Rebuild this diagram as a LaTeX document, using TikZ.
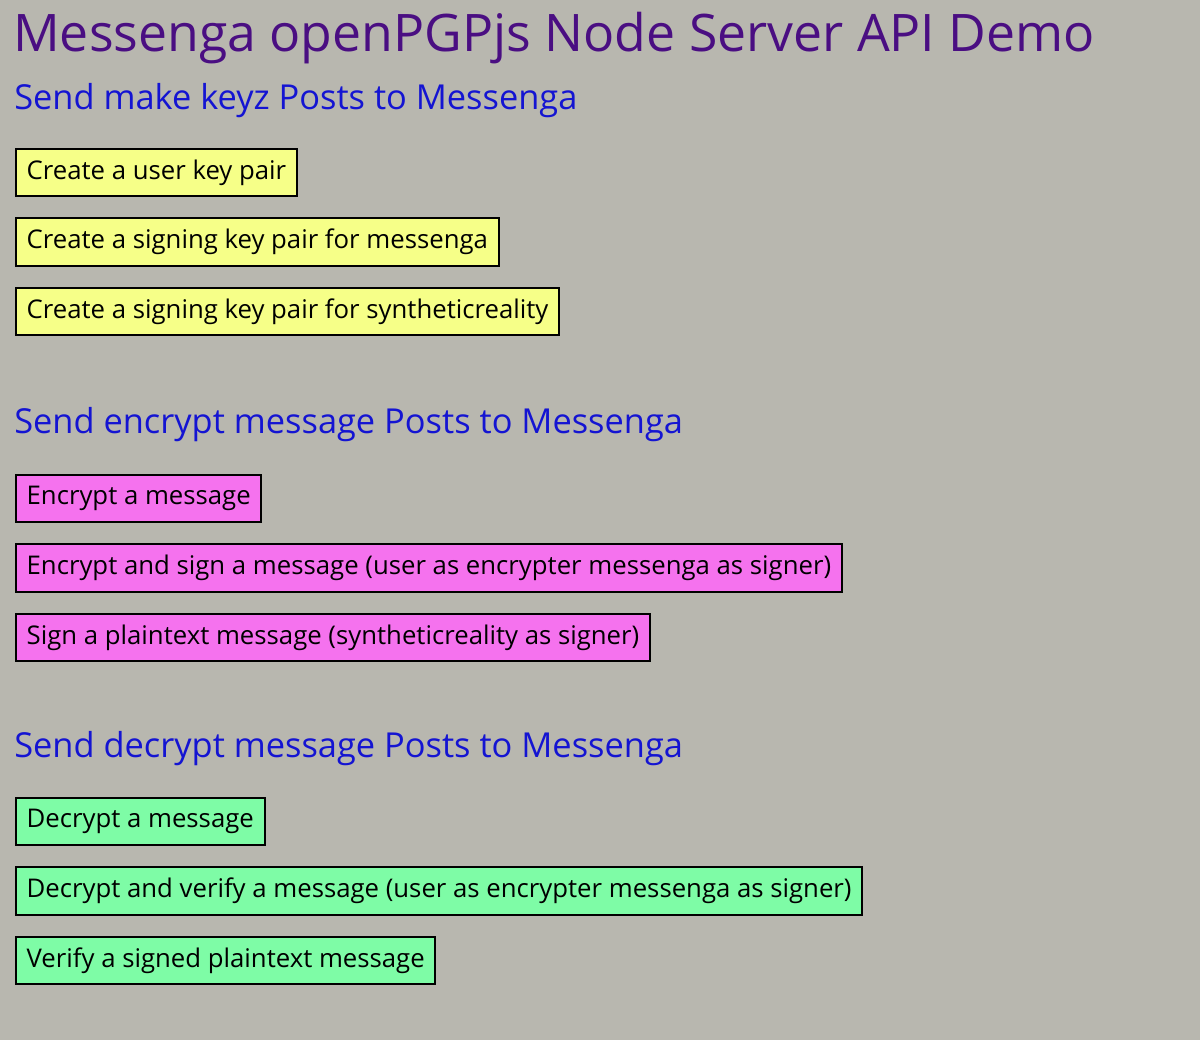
\documentclass[tikz,border=0pt]{standalone}
\usepackage{fontspec}
\setmainfont{Open Sans}
\usetikzlibrary{positioning}
\definecolor{pagebg}{HTML}{B8B7AF}
\definecolor{titlecol}{HTML}{4A0E82}
\definecolor{headcol}{HTML}{1414D2}
\definecolor{keyfill}{HTML}{F6FF88}
\definecolor{encfill}{HTML}{F572EE}
\definecolor{decfill}{HTML}{7EFCA6}
\tikzset{
  btn/.style={draw=black,line width=1.5pt,anchor=north west,inner xsep=8pt,inner ysep=0pt,
    minimum height=35.5pt,font=\fontsize{19.3}{20}\selectfont},
  head/.style={anchor=west,inner sep=0pt,text=headcol,font=\fontsize{25.8}{30}\selectfont}
}
\begin{document}
\begin{tikzpicture}[x=0.75pt,y=-0.75pt,node distance=15pt]
  \fill[pagebg] (0,0) rectangle (1200,1040);
  \useasboundingbox (0,0) rectangle (1200,1040);
  % heading and title
  \node[anchor=west,inner sep=0pt,text=titlecol,font=\fontsize{38.8}{44}\selectfont] (title) at (13,38) {Messenga openPGPjs Node Server API Demo};
  % keyz
  \node[head] (h1) at (14,101) {Send make keyz Posts to Messenga};
  \node[btn,fill=keyfill] (k1) at (15,148) {Create a user key pair};
  \node[btn,fill=keyfill] (k2) [below=of k1.south west,anchor=north west] {Create a signing key pair for messenga};
  \node[btn,fill=keyfill] (k3) [below=of k2.south west,anchor=north west] {Create a signing key pair for syntheticreality};
  % encrypt
  \node[head] (h2) at (14,425) {Send encrypt message Posts to Messenga};
  \node[btn,fill=encfill] (e1) at (15,474) {Encrypt a message};
  \node[btn,fill=encfill] (e2) [below=of e1.south west,anchor=north west] {Encrypt and sign a message (user as encrypter messenga as signer)};
  \node[btn,fill=encfill] (e3) [below=of e2.south west,anchor=north west] {Sign a plaintext message (syntheticreality as signer)};
  % decrypt
  \node[head] (h3) at (14,749) {Send decrypt message Posts to Messenga};
  \node[btn,fill=decfill] (d1) at (15,797) {Decrypt a message};
  \node[btn,fill=decfill] (d2) [below=of d1.south west,anchor=north west] {Decrypt and verify a message (user as encrypter messenga as signer)};
  \node[btn,fill=decfill] (d3) [below=of d2.south west,anchor=north west] {Verify a signed plaintext message};
\end{tikzpicture}
\end{document}
